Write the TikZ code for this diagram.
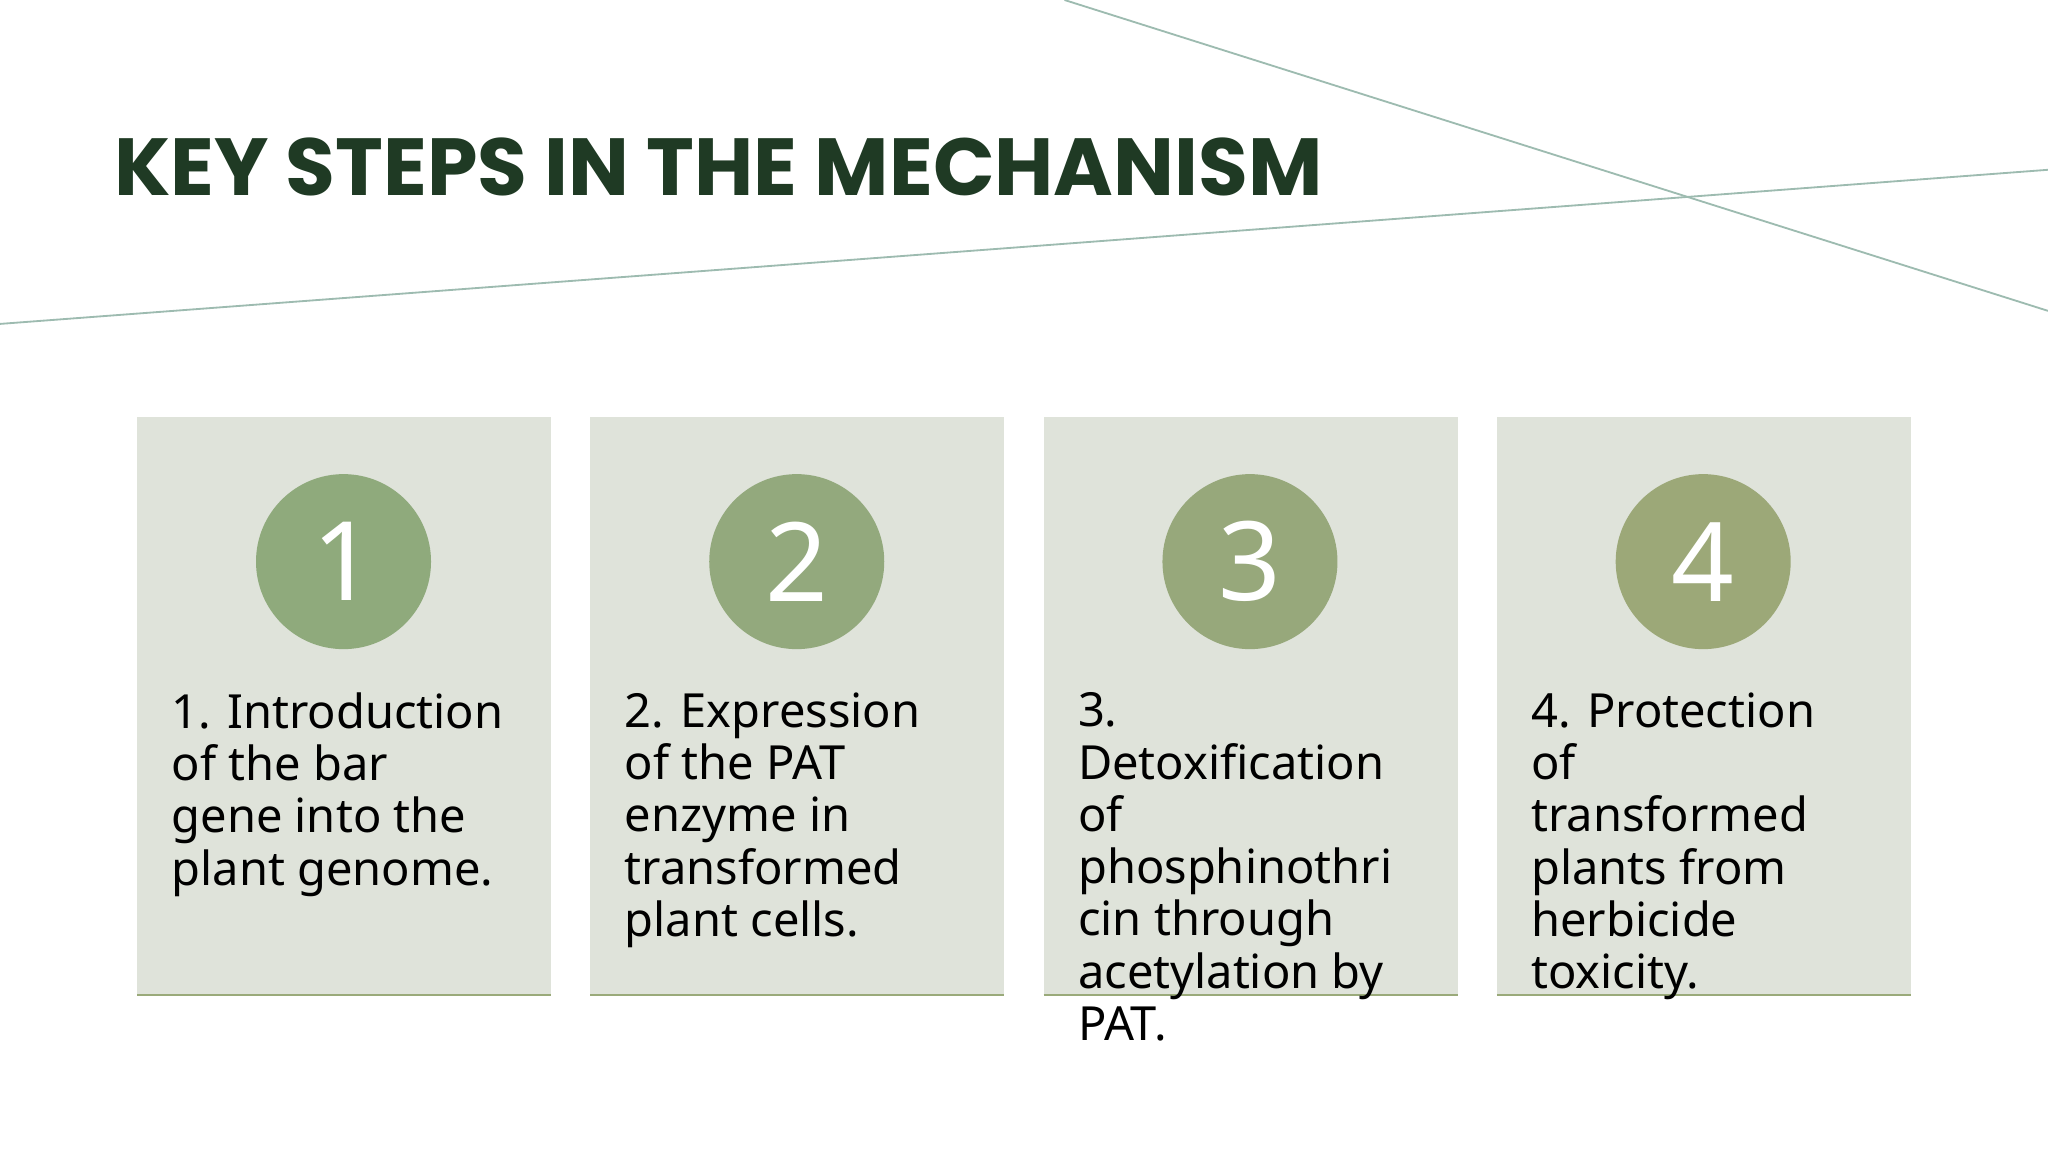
\documentclass[tikz,border=0pt]{standalone}
\usepackage{fontspec}
\setmainfont{Noto Sans}
\newfontfamily\titlefont{Poppins}
\definecolor{titlegreen}{HTML}{1F3A24}
\definecolor{boxfill}{HTML}{DFE3DA}
\definecolor{boxline}{HTML}{9AAA7A}
\definecolor{thinline}{HTML}{9DBBB0}
\definecolor{cA}{HTML}{8FAA7C}
\definecolor{cB}{HTML}{93A97D}
\definecolor{cC}{HTML}{97A87B}
\definecolor{cD}{HTML}{9CA878}
\tikzset{
  stepcard/.style={fill=boxfill, draw=none},
  numcircle/.style={circle, minimum size=67pt, inner sep=0pt, text=white, font=\fontsize{42}{42}\selectfont},
  steptext/.style={anchor=north west, align=left, inner sep=0pt, font=\fontsize{18}{20}\selectfont, text=black},
}
\begin{document}
\begin{tikzpicture}[x=0.5pt,y=-0.5pt]
\useasboundingbox (0,0) rectangle (1568,882);
\fill[white] (0,0) rectangle (1568,882);
\coordinate (l1a) at (815,0); \coordinate (l1b) at (1568,238);
\coordinate (l2a) at (0,248); \coordinate (l2b) at (1568,130);
\draw[thinline, line width=0.7pt] (l1a) -- (l1b);
\draw[thinline, line width=0.7pt] (l2a) -- (l2b);
\node[anchor=west, inner sep=0pt, text=titlegreen, font=\titlefont\bfseries\fontsize{31}{31}\selectfont] (title) at (87,128) {KEY STEPS IN THE MECHANISM};
\foreach \i/\x/\c in {1/105/cA,2/452/cB,3/799/cC,4/1146/cD}{
  \fill[stepcard] (\x,319) rectangle (\x+317,762);
  \draw[boxline, line width=0.8pt] (\x,762) -- (\x+317,762);
  \node[numcircle, fill=\c] (c\i) at (\x+158,430) {\i};
}
\node[steptext] (t1) at (131,530) {1. Introduction\\of the bar\\gene into the\\plant genome.};
\node[steptext] (t2) at (478,530) {2. Expression\\of the PAT\\enzyme in\\transformed\\plant cells.};
\node[steptext] (t3) at (825,530) {3.\\Detoxification\\of\\phosphinothri\\cin through\\acetylation by\\PAT.};
\node[steptext] (t4) at (1172,530) {4. Protection\\of\\transformed\\plants from\\herbicide\\toxicity.};
\end{tikzpicture}
\end{document}
